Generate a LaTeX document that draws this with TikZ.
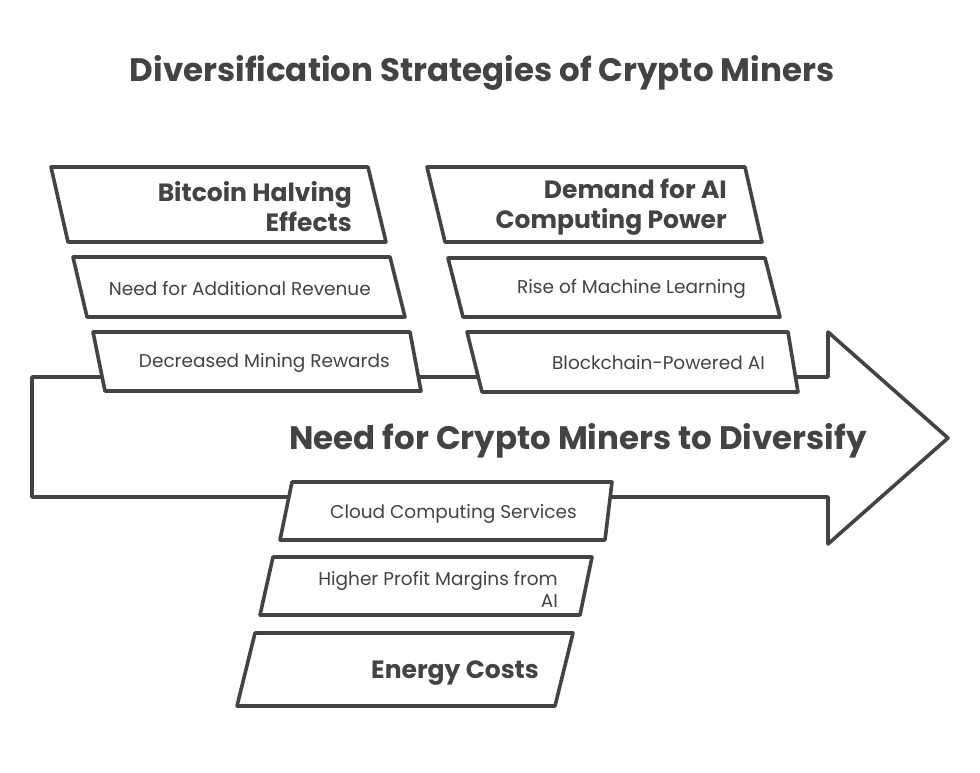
\documentclass[tikz,border=0pt]{standalone}
\usepackage{fontspec}
\setmainfont{Poppins}
\definecolor{ink}{HTML}{434343}
\begin{document}
\begin{tikzpicture}[x=1pt,y=-1pt, line join=round, line cap=round,
  shapebox/.style={draw=ink, fill=white, line width=3.6pt},
  titletext/.style={font=\fontsize{32.5}{38}\selectfont\bfseries, text=ink},
  headtext/.style={font=\fontsize{25}{30}\selectfont\bfseries, text=ink, anchor=east, align=right, inner sep=0pt},
  itemtext/.style={font=\fontsize{18.5}{22}\selectfont, text=ink, anchor=east, align=right, inner sep=0pt}]
\useasboundingbox (0,0) rectangle (980,772);
% title
\node[titletext] (title) at (482,73) {Diversification Strategies of Crypto Miners};
% main arrow
\draw[shapebox] (32,377) -- (828,377) -- (828,332) -- (948,438) -- (828,544) -- (828,497) -- (32,497) -- cycle;
\node[titletext] (main) at (578,441) {Need for Crypto Miners to Diversify};
% upper-left group
\draw[shapebox] (51,167) -- (368,167) -- (386,242) -- (68,242) -- cycle;
\node[headtext] (bhe) at (352,207) {Bitcoin Halving\\Effects};
\draw[shapebox] (73,257) -- (390,257) -- (405,317) -- (87,317) -- cycle;
\node[itemtext] (nar) at (371,289) {Need for Additional Revenue};
\draw[shapebox] (93,332) -- (410,332) -- (421,391) -- (105,391) -- cycle;
\node[itemtext] (dmr) at (390,363) {Decreased Mining Rewards};
% upper-right group
\draw[shapebox] (427,167) -- (745,167) -- (762,242) -- (445,242) -- cycle;
\node[headtext] (dai) at (727,207) {Demand for AI\\Computing Power};
\draw[shapebox] (448,258) -- (765,258) -- (780,317) -- (463,317) -- cycle;
\node[itemtext] (rml) at (746,289) {Rise of Machine Learning};
\draw[shapebox] (467,332) -- (788,332) -- (798,392) -- (482,392) -- cycle;
\node[itemtext] (bpa) at (765,363) {Blockchain-Powered AI};
% lower group
\draw[shapebox] (292,482) -- (612,482) -- (605,540) -- (280,540) -- cycle;
\node[itemtext] (ccs) at (577,514) {Cloud Computing Services};
\draw[shapebox] (273,557) -- (592,557) -- (580,615) -- (260,615) -- cycle;
\node[itemtext] (hpm) at (558,589) {Higher Profit Margins from\\AI};
\draw[shapebox] (255,633) -- (573,633) -- (555,706) -- (237,706) -- cycle;
\node[headtext] (enc) at (539,673) {Energy Costs};
\end{tikzpicture}
\end{document}
